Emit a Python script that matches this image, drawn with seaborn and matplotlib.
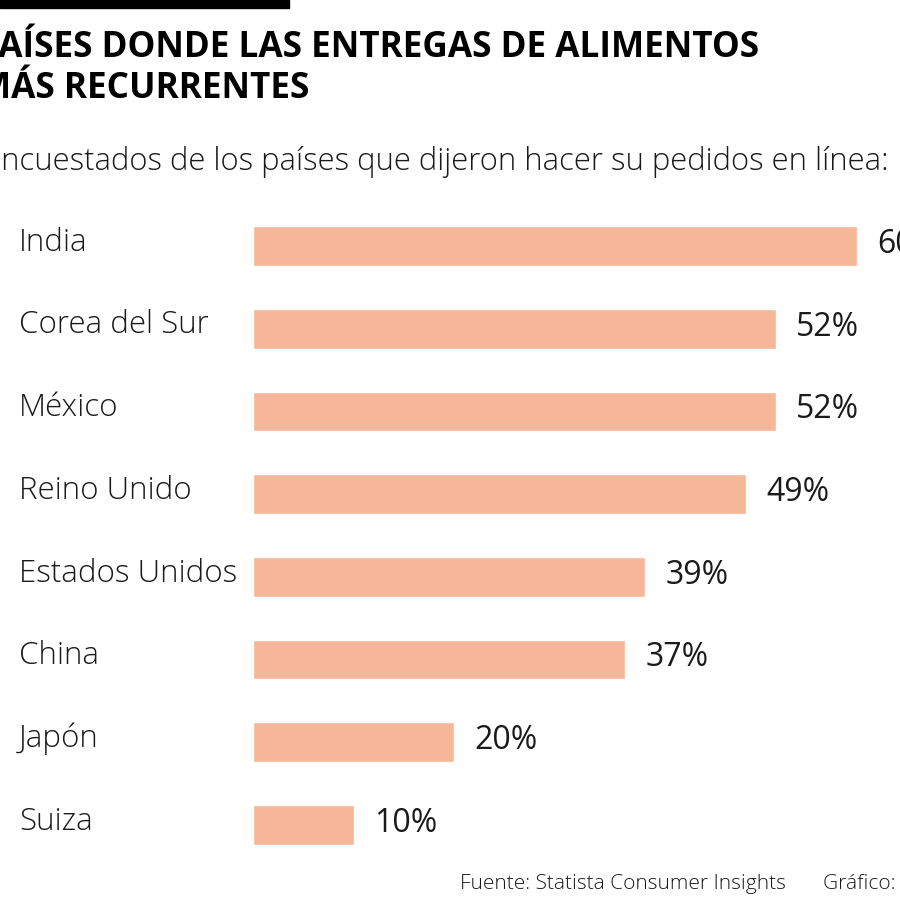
import matplotlib
matplotlib.use("Agg")
import matplotlib.pyplot as plt
import matplotlib.transforms as mtransforms
import pandas as pd
import seaborn as sns

paises = ["India", "Corea del Sur", "México", "Reino Unido",
          "Estados Unidos", "China", "Japón", "Suiza"]
valores = [60, 52, 52, 49, 39, 37, 20, 10]

titulo_1 = "PAÍSES DONDE LAS ENTREGAS DE ALIMENTOS"
titulo_2 = "MÁS RECURRENTES"
subtitulo = "Encuestados de los países que dijeron hacer su pedidos en línea:"
fuente = "Fuente: Statista Consumer Insights"
grafico = "Gráfico: LR-GR"

sns.set_theme(style="white")
plt.rcParams["font.family"] = ["Open Sans", "DejaVu Sans"]

df = pd.DataFrame({"pais": paises, "valor": valores})

fig = plt.figure(figsize=(9, 9), dpi=100)
W, H = 900, 900
# axes: x=0 at px 254, ~10 px per percentage point
ax = fig.add_axes([253 / W, 1 - 866.4 / H, 647 / W, (866.4 - 204.6) / H])
sns.barplot(data=df, x="valor", y="pais", color="#F6B799", width=0.48,
            saturation=1, ax=ax)
ax.set_xlim(0, 64.3)
ax.set_ylim(7.5, -0.5)
ax.set_axis_off()

trans = mtransforms.blended_transform_factory(fig.transFigure, ax.transData)
for i, (p, v) in enumerate(zip(paises, valores)):
    ax.text(19 / W, i - 0.04, p, transform=trans, ha="left", va="center",
            fontsize=22.5, fontweight="light", color="#1a1a1a")
    ax.text(v + 2.0, i - 0.02, f"{v}%", ha="left", va="center",
            fontsize=23, color="#1a1a1a", clip_on=False)

# black bar at the top
fig.patches.append(plt.Rectangle((0, 1 - 8 / H), 289 / W, 8 / H,
                                 transform=fig.transFigure, color="black"))

fig.text(-22 / W, 1 - 57 / H, titulo_1, ha="left", va="baseline",
         fontsize=25.3, fontweight="bold", color="black")
fig.text(-22 / W, 1 - 98 / H, titulo_2, ha="left", va="baseline",
         fontsize=25.3, fontweight="bold", color="black")
fig.text(-16 / W, 1 - 170 / H, subtitulo, ha="left", va="baseline",
         fontsize=22.3, fontweight="light", color="#1a1a1a")

fig.text(460 / W, 1 - 889 / H, fuente, ha="left", va="baseline",
         fontsize=15, fontweight="light", color="#1a1a1a")
fig.text(823 / W, 1 - 889 / H, grafico, ha="left", va="baseline",
         fontsize=15, fontweight="light", color="#1a1a1a")

fig.savefig("out.png", dpi=100)
